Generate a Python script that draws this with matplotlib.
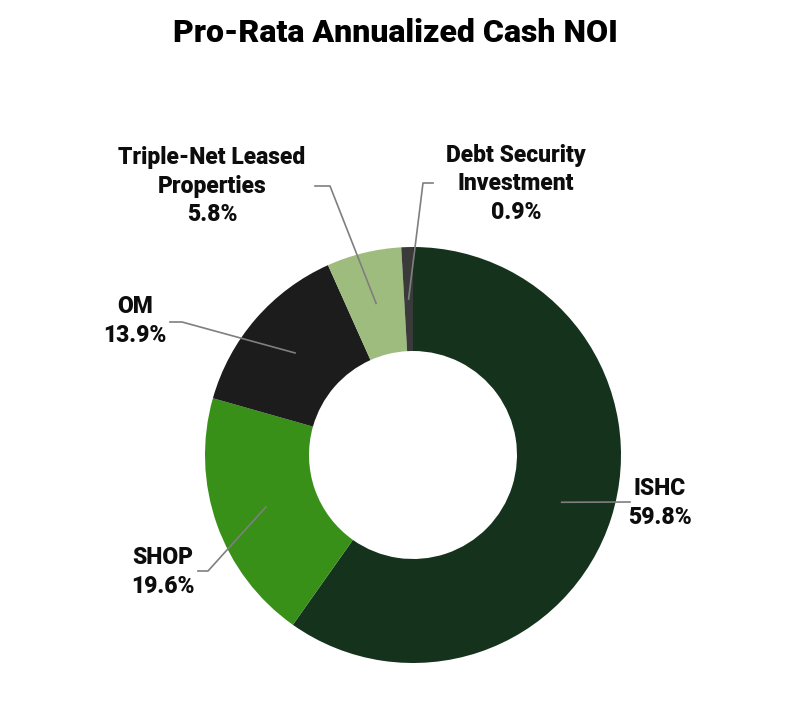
import numpy as np
import matplotlib.pyplot as plt

labels = ["ISHC", "SHOP", "OM", "Triple-Net Leased\nProperties", "Debt Security\nInvestment"]
shares = [59.8, 19.6, 13.9, 5.8, 0.9]
colors = ["#15321c", "#389018", "#1c1c1c", "#9ebc7e", "#3a3a3a"]

# layout (pixels in the 804x704 image): pie centre, radius, label elbows and text spots
CX, CY, R = 413, 455, 208
elbows = [(630, 502), (208, 571), (182, 322), (330, 186), (423, 183)]
ends = [(630, 502), (198, 571), (170, 322), (315, 186), (433, 183)]
text_xy = [(660, 503), (163, 572), (135, 321), (212, 186), (516, 184)]

plt.rcParams["font.family"] = ["Roboto", "DejaVu Sans"]


def to_data(p):
    return ((p[0] - CX) / R, (CY - p[1]) / R)


fig = plt.figure(figsize=(8.04, 7.04), dpi=100)
ax = fig.add_axes([0, 0, 1, 1])

wedges, _ = ax.pie(
    shares,
    colors=colors,
    startangle=90,
    counterclock=False,
    radius=1,
    wedgeprops=dict(width=0.5, linewidth=0),
)

for w, lab, val, el, en, txy in zip(wedges, labels, shares, elbows, ends, text_xy):
    mid = np.deg2rad((w.theta1 + w.theta2) / 2)
    a = (0.75 * np.cos(mid), 0.75 * np.sin(mid))
    e1 = to_data(el)
    e2 = to_data(en)
    ax.plot([a[0], e1[0], e2[0]], [a[1], e1[1], e2[1]], color="#7f7f7f", lw=1.2)
    tx, ty = to_data(txy)
    ax.text(tx, ty, f"{lab}\n{val:.1f}%", ha="center", va="center",
            fontsize=16.5, fontweight="black", linespacing=1.3, color="#0d0d0d")

ax.set_xlim(-CX / R, (804 - CX) / R)
ax.set_ylim(-(704 - CY) / R, CY / R)
ax.axis("off")

fig.text(0.492, 1 - 33 / 704, "Pro-Rata Annualized Cash NOI", ha="center", va="center",
         fontsize=23, fontweight="black", color="#000000")

fig.savefig("out.png", dpi=100)
